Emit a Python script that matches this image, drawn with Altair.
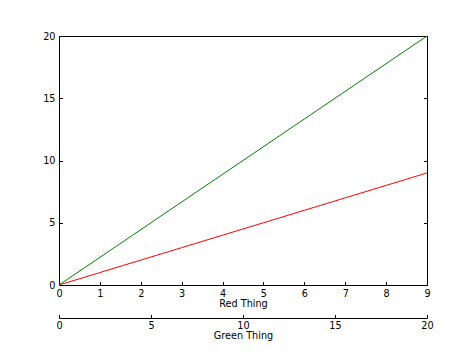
import altair as alt
import pandas as pd

# data
red_x = [0, 1, 2, 3, 4, 5, 6, 7, 8, 9]
red_y = [0, 1, 2, 3, 4, 5, 6, 7, 8, 9]
green_x = [0, 2, 4, 6, 8, 10, 12, 14, 16, 18, 20]
green_y = [0, 2, 4, 6, 8, 10, 12, 14, 16, 18, 20]
red_ticks = [0, 1, 2, 3, 4, 5, 6, 7, 8, 9]
green_ticks = [0, 5, 10, 15, 20]
y_ticks = [0, 5, 10, 15, 20]

FONT = "DejaVu Sans"
FS = 9.7
inward = alt.ExprRef(expr="-3.5")

common_axis = dict(grid=False, labelFlush=False, labelOverlap=False,
                   labelColor="black", tickColor="black", titleColor="black",
                   labelFont=FONT, titleFont=FONT, labelFontSize=FS, titleFontSize=FS,
                   titleFontWeight="normal", tickSize=inward, tickWidth=1)

red_df = pd.DataFrame({"x": red_x, "y": red_y})
green_df = pd.DataFrame({"x": green_x, "y": green_y})

red = alt.Chart(red_df).mark_line(color="#ff0000", strokeWidth=1).encode(
    x=alt.X("x:Q", scale=alt.Scale(domain=[0, 9], nice=False, zero=False),
            axis=alt.Axis(orient="bottom", title="Red Thing", values=red_ticks,
                          domain=False, labelPadding=7, titleBaseline="alphabetic",
                          titleY=21, **common_axis)),
    y=alt.Y("y:Q", scale=alt.Scale(domain=[0, 20], nice=False),
            axis=alt.Axis(orient="left", title=None, values=y_ticks, domain=False,
                          labelPadding=7.5, labelBaseline="middle", **common_axis)),
)

green = alt.Chart(green_df).mark_line(color="#008000", strokeWidth=1).encode(
    x=alt.X("x:Q", scale=alt.Scale(domain=[0, 20], nice=False, zero=False),
            axis=alt.Axis(orient="bottom", title="Green Thing", values=green_ticks,
                          offset=33, domain=True, domainColor="black", domainWidth=1,
                          labelPadding=6, titleBaseline="alphabetic", titleY=20.5,
                          **common_axis)),
    y=alt.Y("y:Q", scale=alt.Scale(domain=[0, 20], nice=False),
            axis=alt.Axis(orient="right", title=None, values=y_ticks, domain=False,
                          labels=False, **common_axis)),
)

chart = alt.layer(red, green).resolve_scale(x="independent", y="independent").properties(
    width=368, height=249, autosize="none", background="white",
    padding={"left": 51, "top": 28, "right": 39, "bottom": 64},
).configure_view(stroke="black", strokeWidth=1)

chart.save("out.html", embed_options={"renderer": "svg", "actions": False})
